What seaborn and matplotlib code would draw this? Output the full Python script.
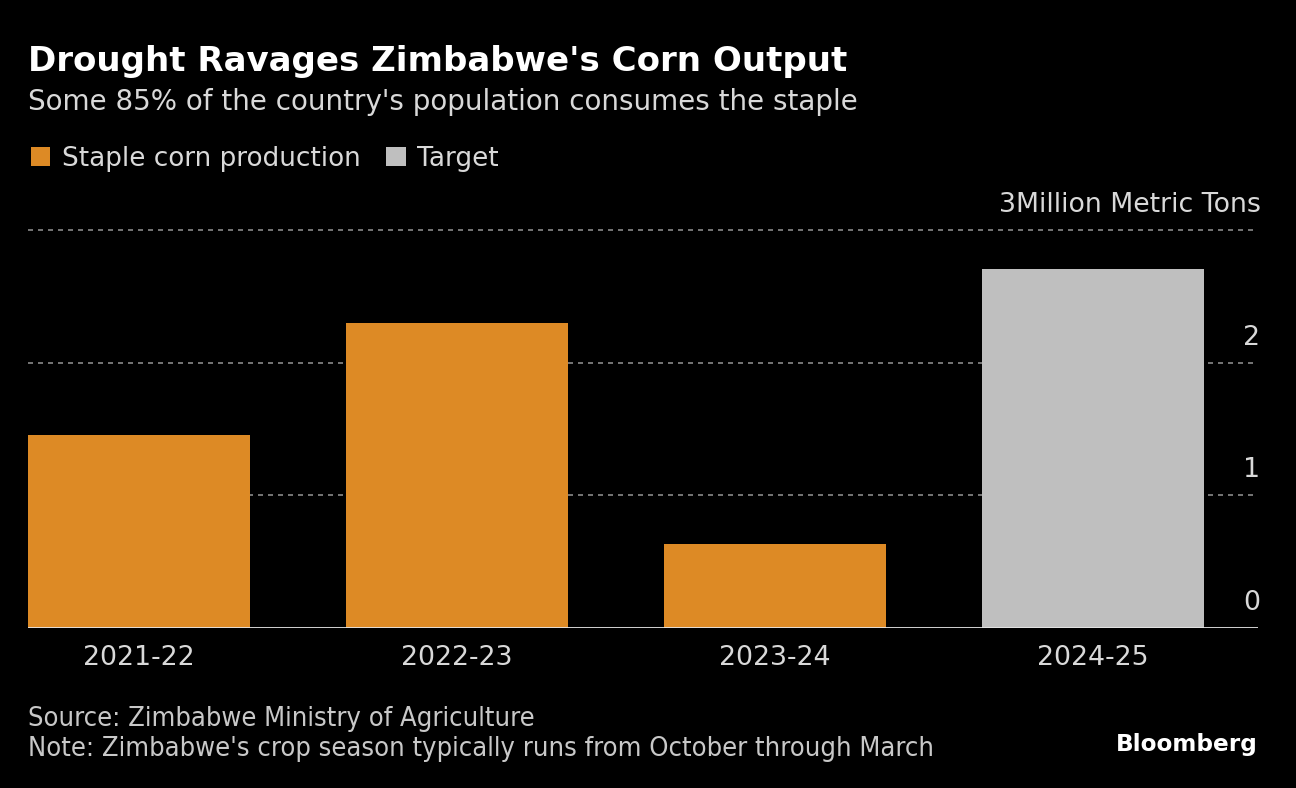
import pandas as pd
import seaborn as sns
import matplotlib.pyplot as plt

seasons = ["2021-22", "2022-23", "2023-24", "2024-25"]
output_mt = [1.455, 2.30, 0.635, 2.705]
series = ["Staple corn production", "Staple corn production", "Staple corn production", "Target"]
y_ticks = [0, 1, 2, 3]

df = pd.DataFrame({"season": seasons, "output": output_mt, "series": series})

sns.set_theme(style="dark")
plt.rcParams["font.family"] = ["DejaVu Sans"]
txt = "#d9d9d9"

fig = plt.figure(figsize=(12.96, 7.88), dpi=100, facecolor="black")
ax = fig.add_axes([0.0216, 0.2030, 0.9491, 0.5135], facecolor="black")

sns.barplot(data=df, x="season", y="output", hue="series", dodge=False, width=0.7,
            palette={"Staple corn production": "#dd8a25", "Target": "#bfbfbf"},
            saturation=1, linewidth=0, ax=ax, zorder=3)

ax.set_xlim(-0.349, 3.519)
ax.set_ylim(0, 3.05)
ax.set_yticks([])
ax.set_xlabel("")
ax.set_ylabel("")
for y in y_ticks[1:]:
    ax.axhline(y, color="#8a8a8a", lw=1.2, ls=(0, (3, 3)), zorder=1)
ax.axhline(0, color="#e6e6e6", lw=2, zorder=4)
for s in ax.spines.values():
    s.set_visible(False)
ax.tick_params(axis="x", colors=txt, labelsize=19.3, length=0, pad=12)

tr = ax.get_yaxis_transform()
for y in y_ticks:
    lab = "3Million Metric Tons" if y == 3 else str(y)
    ax.text(1.002, y + 0.09, lab, transform=tr, ha="right", va="bottom",
            color=txt, fontsize=19.3)

handles, labels = ax.get_legend_handles_labels()
ax.get_legend().remove()
for h in handles:
    h.set_linewidth(0)
fig.legend(handles, labels, loc="upper left", bbox_to_anchor=(0.0055, 0.845),
           frameon=False, ncol=2, fontsize=18.9, labelcolor=txt,
           handlelength=0.75, handleheight=0.75, handletextpad=0.45, columnspacing=0.95)

fig.text(0.0216, 0.922, "Drought Ravages Zimbabwe's Corn Output", color="white",
         fontsize=24.5, fontweight="bold", va="center")
fig.text(0.0216, 0.871, "Some 85% of the country's population consumes the staple",
         color=txt, fontsize=20, va="center")
fig.text(0.0216, 0.088, "Source: Zimbabwe Ministry of Agriculture", color="#c8c8c8",
         fontsize=19.5, va="center", fontstretch="condensed")
fig.text(0.0216, 0.050, "Note: Zimbabwe's crop season typically runs from October through March",
         color="#c8c8c8", fontsize=19.5, va="center", fontstretch="condensed")
fig.text(0.9707, 0.055, "Bloomberg", color="white", fontsize=16.7, fontweight="bold",
         ha="right", va="center")

fig.savefig("out.png", dpi=100, facecolor="black")
